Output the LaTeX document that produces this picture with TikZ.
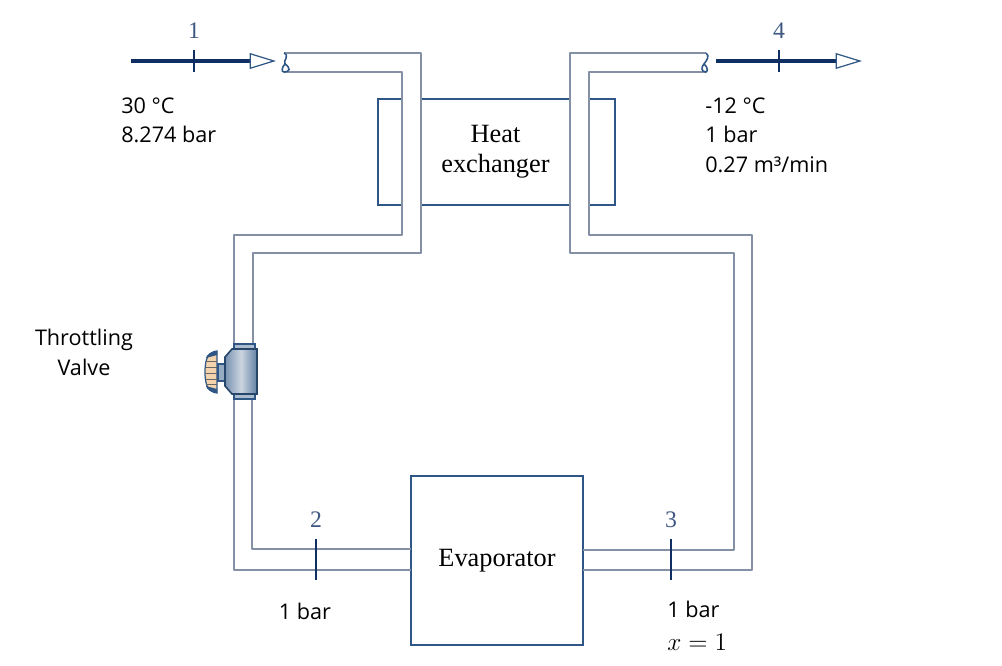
\documentclass[tikz,border=0pt]{standalone}
\usepackage{amsmath}
\usepackage{fontspec}
\setmainfont{Open Sans}
\newfontfamily\bookfont{Liberation Serif}
\usetikzlibrary{arrows.meta}

\definecolor{pipegray}{HTML}{8490A6}
\definecolor{boxblue}{HTML}{2F5785}
\definecolor{flownavy}{HTML}{0F2F63}
\definecolor{knobtan}{HTML}{F2D3AE}

\tikzset{
  pipe/.style={pipegray, line width=1.4pt, line join=round},
  unit/.style={draw=boxblue, line width=1pt, fill=white, font=\bookfont\fontsize{15}{17}\selectfont, align=center, inner sep=0pt, outer sep=0pt},
  shell/.style={draw=boxblue, line width=1pt, inner sep=0pt, outer sep=0pt},
  flow/.style={flownavy, line width=2pt, -{Triangle[open, length=15pt, width=9pt, line width=.7pt, color=boxblue]}},
  tick/.style={flownavy, line width=.8pt},
  num/.style={font=\bookfont\fontsize{13.5}{15}\selectfont, text=flownavy!80, inner sep=0pt},
  info/.style={font=\fontsize{12.3}{17}\selectfont, align=left, anchor=north west, inner sep=0pt},
}

\begin{document}
\begin{tikzpicture}[x=0.02cm, y=-0.02cm]
  \useasboundingbox (0,0) rectangle (1002,666);

  % Shells of the exchanger
  \node[shell, minimum width=0.48cm, minimum height=2.12cm, anchor=north west] (shellL) at (378,99) {};
  \node[shell, minimum width=0.52cm, minimum height=2.12cm, anchor=north west] (shellR) at (589,99) {};

  % Units
  \fill[white] (284,53) rectangle (421,72) (402,53) rectangle (421,253) (234,235) rectangle (421,253);
  \fill[white] (570,53) rectangle (706,72) (570,53) rectangle (589,253) (570,235) rectangle (752,253);
  \node[unit, minimum width=2.98cm, minimum height=2.12cm, anchor=north west] (exchanger) at (421,99) {Heat\\exchanger};
  \node[unit, minimum width=3.44cm, minimum height=3.38cm, anchor=north west] (evaporator) at (411,476) {Evaporator};

  % Pipe: inlet to valve
  \coordinate (inA) at (284,53);
  \coordinate (inB) at (284,72);
  \coordinate (valveTopA) at (234,344);
  \coordinate (valveTopB) at (253,344);
  \draw[pipe] (inA) -| (421,253) -| (valveTopB);
  \draw[pipe] (inB) -| (402,235) -| (valveTopA);

  % Pipe: valve to evaporator
  \coordinate (valveLowA) at (234,399);
  \coordinate (valveLowB) at (252,399);
  \coordinate (evapInA) at (411,549);
  \coordinate (evapInB) at (411,570);
  \draw[pipe] (valveLowB) |- (evapInA);
  \draw[pipe] (valveLowA) |- (evapInB);

  % Pipe: evaporator to outlet
  \coordinate (outA) at (706,53);
  \coordinate (outB) at (706,72);
  \coordinate (evapOutA) at (583,550);
  \coordinate (evapOutB) at (583,570);
  \draw[pipe] (outA) -| (570,253) -| (734,550) -- (evapOutA);
  \draw[pipe] (outB) -| (589,235) -| (752,570) -- (evapOutB);

  % Pipe breaks
  \draw[boxblue, line width=.9pt] (inA) .. controls (290,56) and (283,60) .. (285,64) .. controls (291,68) and (290,72) .. (inB) .. controls (281,72) and (282,67) .. (285,64);
  \draw[boxblue, line width=.9pt] (outA) .. controls (710,56) and (707,60) .. (704,64) .. controls (709,68) and (707,72) .. (outB) .. controls (701,72) and (701,67) .. (704,64);

  % Flow arrows
  \coordinate (flowInA) at (131,61);
  \coordinate (flowInB) at (276,61);
  \coordinate (flowOutA) at (716,61);
  \coordinate (flowOutB) at (862,61);
  \draw[flow] (flowInA) -- (flowInB);
  \draw[flow] (flowOutA) -- (flowOutB);

  % State points
  \node[num] (numA) at (194,31) {1};
  \node[num] (numB) at (316,520) {2};
  \node[num] (numC) at (671,520) {3};
  \node[num] (numD) at (779,31) {4};
  \coordinate (tickAtop) at (194,50);
  \coordinate (tickBtop) at (316,539);
  \coordinate (tickCtop) at (671,539);
  \coordinate (tickDtop) at (779,50);
  \coordinate (tickA) at (194,72);
  \coordinate (tickB) at (316,580);
  \coordinate (tickC) at (671,580);
  \coordinate (tickD) at (779,72);
  \draw[tick] (tickAtop) -- (tickA);
  \draw[tick] (tickBtop) -- (tickB);
  \draw[tick] (tickCtop) -- (tickC);
  \draw[tick] (tickDtop) -- (tickD);

  % Valve
  \fill[knobtan, draw=boxblue, line width=.7pt]
    (217,351) .. controls (209,352) and (205,357) .. (205,372) .. controls (205,387) and (209,392) .. (217,393) -- cycle;
  \fill[boxblue] (217,351) .. controls (211,352) and (207,354) .. (206,358) -- (217,355) -- cycle;
  \fill[boxblue] (217,393) .. controls (211,392) and (207,390) .. (206,386) -- (217,389) -- cycle;
  \foreach \yy in {361,367,373,379,384}
    \draw[black!60, line width=.5pt] (205.5,\yy) -- (217,\yy);
  \filldraw[draw=boxblue, fill=boxblue!50, line width=.7pt] (218,364) rectangle (225,381);
  \filldraw[draw=boxblue, fill=boxblue!40, line width=.7pt] (234,344) rectangle (255,349);
  \filldraw[draw=boxblue, fill=boxblue!40, line width=.7pt] (234,394) rectangle (255,399);
  \shadedraw[left color=boxblue!65, right color=boxblue!75, middle color=boxblue!25, draw=boxblue!80!black, line width=.9pt]
    (232,349) -- (257,349) -- (257,394) -- (232,394) -- (225,386) -- (225,357) -- cycle;

  % Labels
  \node[info] (inletText) at (121,97) {30 °C\\8.274 bar};
  \node[info] (outletText) at (705,97) {-12 °C\\1 bar\\0.27 m³/min};
  \node[font=\fontsize{12.3}{17}\selectfont, align=center, inner sep=0pt] (valveText) at (84,352) {Throttling\\Valve};
  \node[info, anchor=center] (stateTwo) at (305,611) {1 bar};
  \node[info] (stateThree) at (667,601) {1 bar};
  \node[font=\fontsize{14}{17}\selectfont, anchor=west, inner sep=0pt] (quality) at (667,642) {$x=1$};
\end{tikzpicture}
\end{document}
